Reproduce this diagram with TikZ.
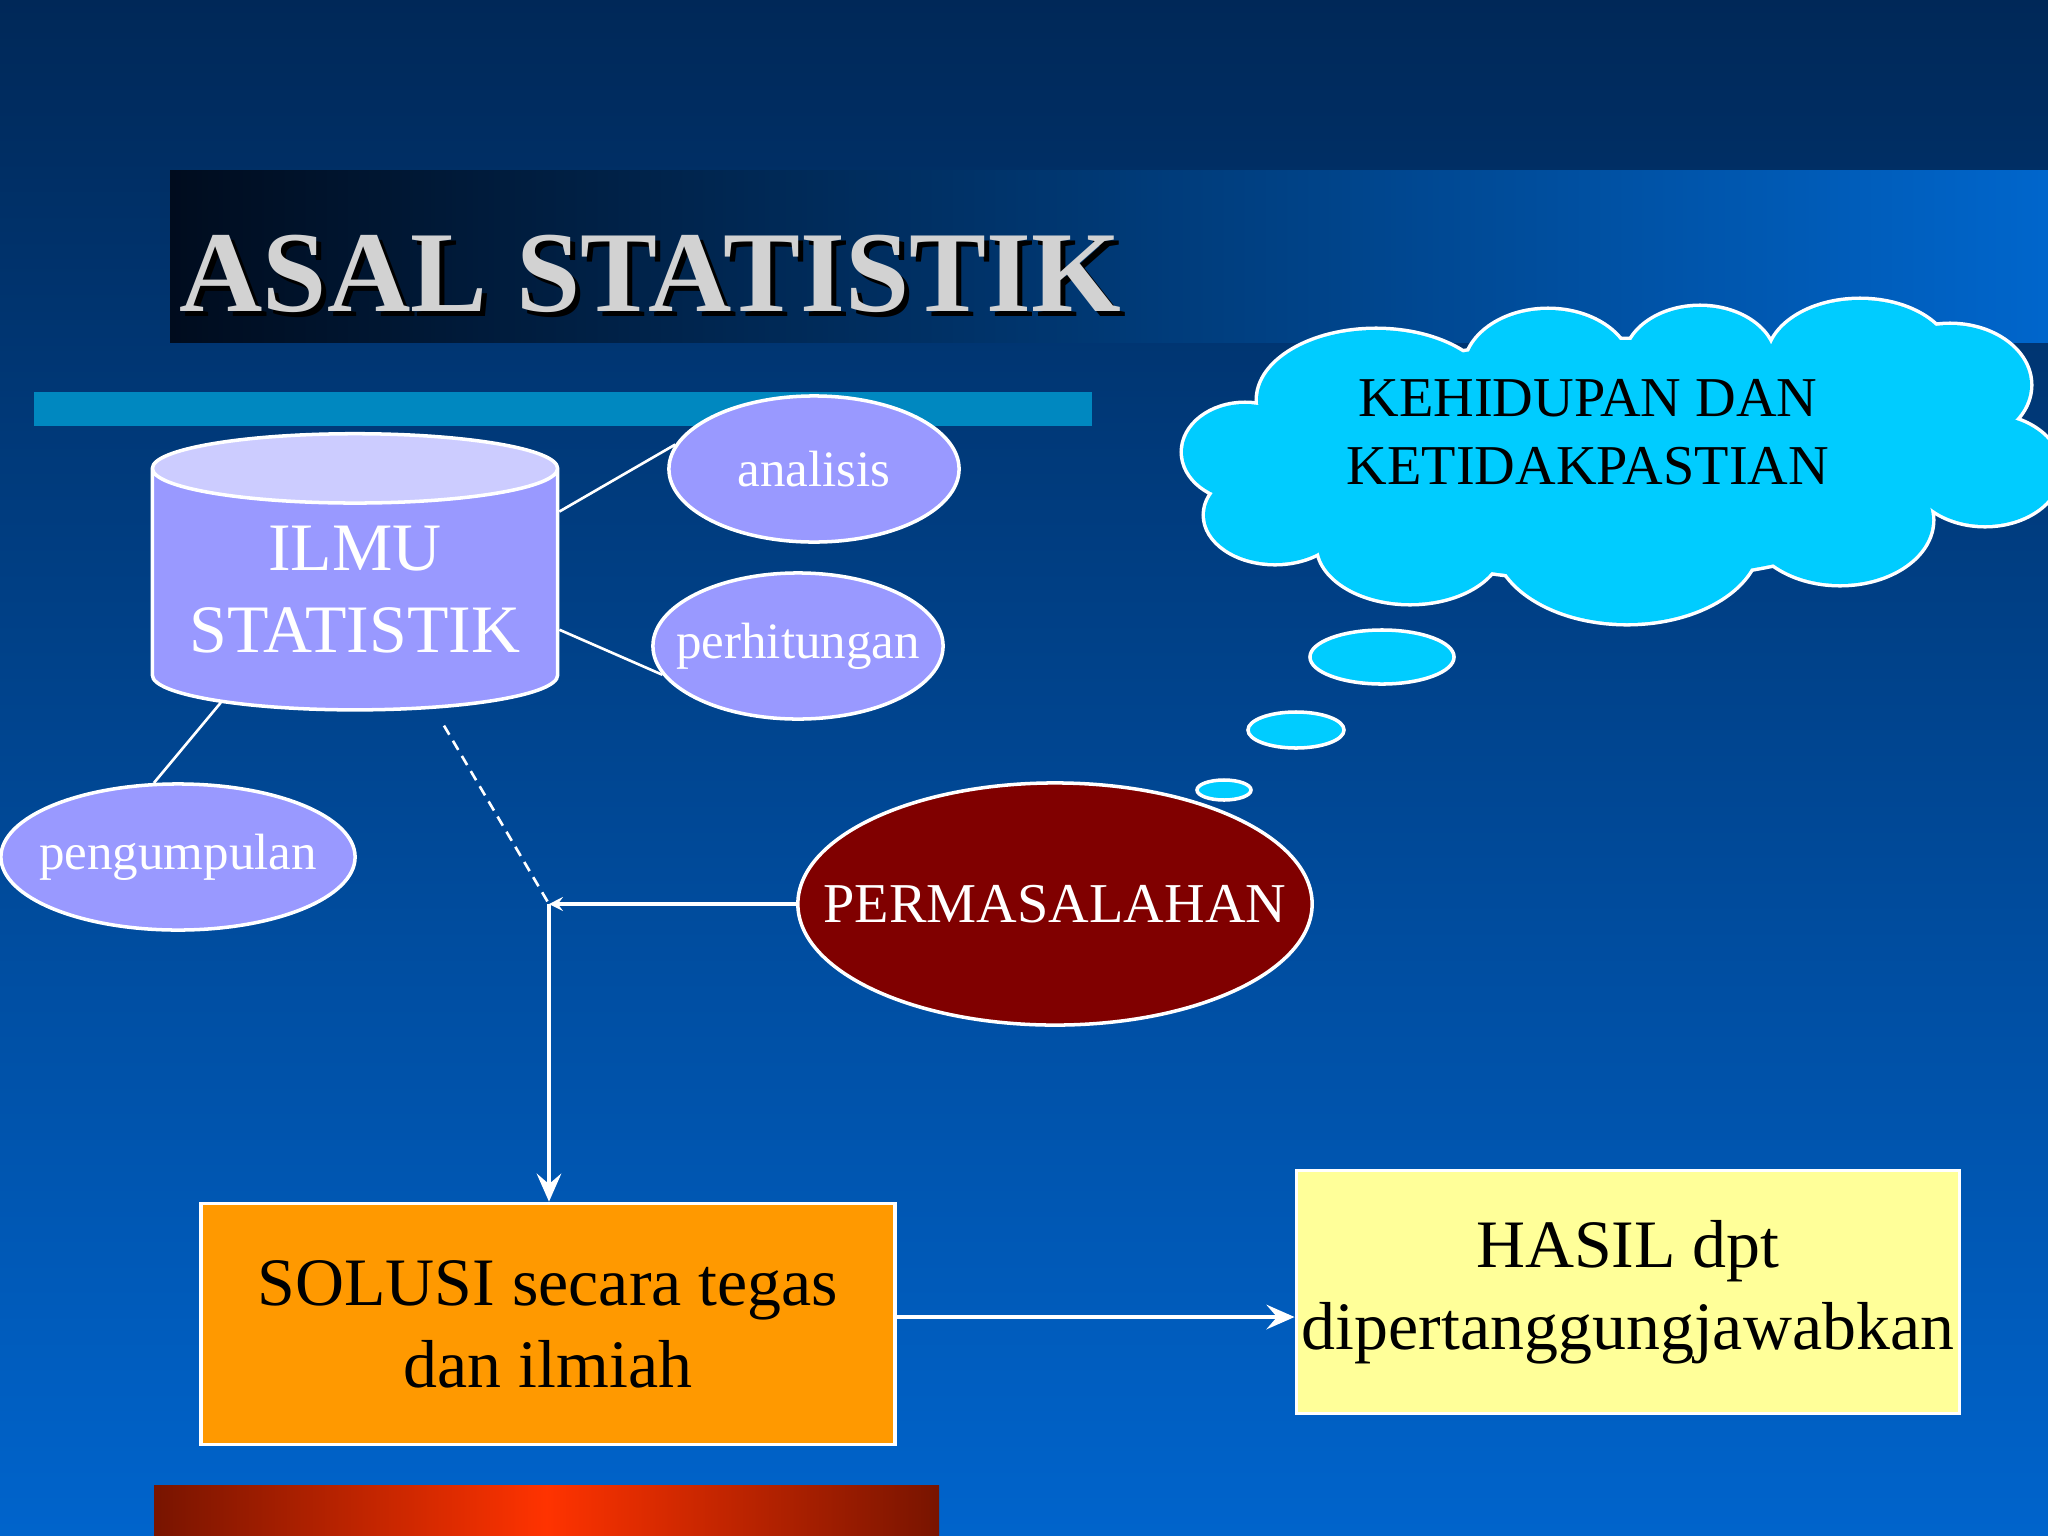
\documentclass[tikz,border=0pt]{standalone}
\usepackage{fontspec}
\setmainfont{Liberation Serif}
\usetikzlibrary{shapes.geometric,arrows.meta}

\definecolor{lavender}{RGB}{153,153,255}
\definecolor{lavtop}{RGB}{204,204,255}
\definecolor{skyfill}{RGB}{0,204,255}
\definecolor{maroonfill}{RGB}{128,0,0}
\definecolor{orangefill}{RGB}{255,153,0}
\definecolor{yellowfill}{RGB}{255,255,153}
\definecolor{titlegray}{RGB}{210,210,210}
\definecolor{bgtop}{RGB}{0,40,88}
\definecolor{bgbottom}{RGB}{0,100,204}
\definecolor{bardark}{RGB}{0,12,30}
\definecolor{barblue}{RGB}{0,102,204}
\definecolor{stripe}{RGB}{0,136,192}
\definecolor{reddark}{RGB}{120,20,0}
\definecolor{redlight}{RGB}{255,51,0}

\begin{document}
\begin{tikzpicture}[x=0.01cm,y=-0.01cm,
  bubble/.style={ellipse, draw=white, line width=1pt, fill=lavender, text=white,
    font=\fontsize{14.5}{17}\selectfont, minimum width=2.9cm, minimum height=1.46cm,
    inner xsep=-0.2cm, inner ysep=0pt},
  puff/.style={ellipse, draw=white, line width=1pt, fill=skyfill, inner sep=0pt},
  box/.style={rectangle, draw=white, line width=1pt, text=black, align=center,
    font=\fontsize{19.3}{23.3}\selectfont, inner sep=0pt},
  link/.style={white, line width=0.75pt},
  flow/.style={white, line width=1pt, -{Stealth[length=8pt,width=7pt,inset=3pt]}}]
\useasboundingbox (0,0) rectangle (2048,1536);

 \shade[top color=bgtop, bottom color=bgbottom] (0,0) rectangle (2048,1536);
 \shade[left color=bardark, right color=barblue] (170,170) rectangle (2048,342);
 \fill[stripe] (34,392) rectangle (1092,426);
 \shade[left color=reddark, right color=reddark, middle color=redlight] (154,1485) rectangle (939,1536);

 \node[anchor=base west, inner sep=0pt, font=\fontsize{32.8}{38}\bfseries\selectfont] (titleshadow) at (184,316) {ASAL STATISTIK};
 \node[anchor=base west, inner sep=0pt, text=titlegray, font=\fontsize{32.8}{38}\bfseries\selectfont] (title) at (179,311) {ASAL STATISTIK};

 \node[cylinder, shape border rotate=90, aspect=0.21, draw=white, line width=1pt,
   cylinder uses custom fill, cylinder body fill=lavender, cylinder end fill=lavtop,
   minimum width=4.05cm, minimum height=2.76cm, inner sep=0pt, text=white, align=center,
   font=\fontsize{19.3}{23.3}\selectfont] (ilmu) at (355,590) {ILMU\\STATISTIK};

 \node[bubble] (analisis) at (814,469) {analisis};
 \node[bubble] (perhitungan) at (798,646) {perhitungan};
 \node[bubble, minimum width=3.54cm] (pengumpulan) at (178,857) {pengumpulan};

 \draw[link] (ilmu.21) -- (analisis.170);
 \draw[link] (ilmu.-11) -- (perhitungan.192);
 \draw[link] (ilmu.-140) -- (pengumpulan.108);

 % awan
 \foreach \c/\rx/\ry in {(1245,452)/62/48, (1275,515)/70/48, (1410,545)/92/58, (1627,540)/132/83,
   (1840,520)/92/64, (1985,470)/75/55, (1950,385)/80/60, (1860,360)/92/60, (1700,362)/75/55,
   (1548,370)/83/60, (1376,400)/118/70, (1610,460)/330/120}
   \draw[white, line width=2pt] \c ellipse ({\rx} and {\ry});
 \foreach \c/\rx/\ry in {(1245,452)/62/48, (1275,515)/70/48, (1410,545)/92/58, (1627,540)/132/83,
   (1840,520)/92/64, (1985,470)/75/55, (1950,385)/80/60, (1860,360)/92/60, (1700,362)/75/55,
   (1548,370)/83/60, (1376,400)/118/70, (1610,460)/330/120}
   \fill[skyfill] \c ellipse ({\rx} and {\ry});
 \node[inner sep=0pt, align=center, font=\fontsize{16}{19.3}\selectfont] (awantxt) at (1588,432) {KEHIDUPAN DAN\\KETIDAKPASTIAN};
 \foreach \pos/\w/\h [count=\i] in {(1382,657)/1.44cm/0.54cm, (1296,730)/0.96cm/0.36cm, (1224,790)/0.54cm/0.2cm}
   \node[puff, minimum width=\w, minimum height=\h] (gelembung\i) at \pos {};

 \node[ellipse, draw=white, line width=1pt, fill=maroonfill, text=white, inner xsep=-0.53cm, inner ysep=0pt,
   minimum width=5.14cm, minimum height=2.42cm, font=\fontsize{16}{19}\selectfont] (masalah) at (1055,904) {PERMASALAHAN};

 \node[box, fill=orangefill, minimum width=6.94cm, minimum height=2.41cm] (solusi) at (548,1324) {SOLUSI secara tegas\\dan ilmiah};
 \node[box, fill=yellowfill, minimum width=6.63cm, minimum height=2.43cm] (hasil) at (1628,1292) {HASIL dpt\\dipertanggungjawabkan};

 \coordinate (belok) at (549,904);
 \draw[link, dash pattern=on 3pt off 2pt] ([shift={(89,14)}]ilmu.south) -- (belok);
 \draw[flow, -{Stealth[length=4pt,width=4pt,inset=1.5pt]}] (masalah.west) -- (belok);
 \draw[flow] (belok) -- (belok |- solusi.north);
 \draw[flow] (solusi.east |- 0,1317) -- (hasil.west |- 0,1317);

\end{tikzpicture}
\end{document}
